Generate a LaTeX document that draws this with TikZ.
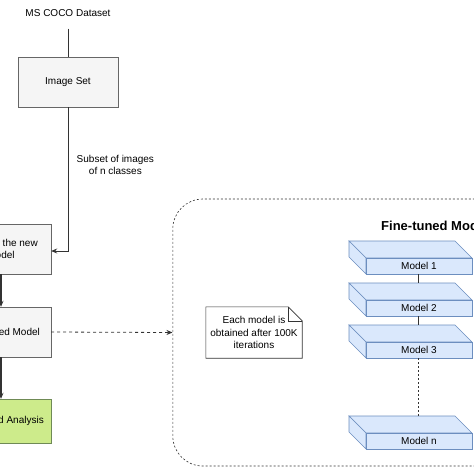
\documentclass[tikz,border=0pt]{standalone}
\usepackage{fontspec}
\setmainfont{Liberation Sans}
\usepackage{tikz}
\usetikzlibrary{arrows.meta}
\definecolor{boxgray}{HTML}{F5F5F5}
\definecolor{linegray}{HTML}{666666}
\definecolor{darkline}{HTML}{333333}
\definecolor{lightgreen}{HTML}{CDEB8B}
\definecolor{greenline}{HTML}{6F8A55}
\definecolor{cubeblue}{HTML}{DAE8FC}
\definecolor{cubeline}{HTML}{6C8EBF}

\tikzset{
  procbox/.style={draw=linegray, fill=boxgray, minimum width=100pt, minimum height=50pt, align=center, font=\fontsize{10}{12}\selectfont},
  conn/.style={draw=darkline, line width=0.8pt},
  arrowtip/.style={-{Stealth[length=6pt,width=5pt]}},
}

\begin{document}
\begin{tikzpicture}[x=1pt, y=-1pt, font=\fontsize{10}{12}\selectfont]
  % fixes the page and cuts off what lies outside it
  \path[use as bounding box, clip] (0,0) rectangle (474,474);

  % draws the pipeline on the left
  \node[inner sep=0pt] (coco) at (68,13) {MS COCO Dataset};
  \node[procbox] (imgset) at (68,82) {Image Set};
  \node[procbox] (train) at (1,249) {Training the new\\Model};
  \node[procbox] (trained) at (1,332) {Fine-tuned Model};
  \node[procbox, fill=lightgreen, draw=greenline, minimum height=44pt] (analysis) at (1,421) {Combined Analysis};

  \draw[conn] ([yshift=-12pt]coco.south) -- (imgset.north);
  \draw[conn, arrowtip] (imgset.south) |- ([yshift=-2pt]train.east)
    node[pos=0.2, right=5pt, align=center] {Subset of images\\of n classes};
  \draw[conn, line width=1.6pt, arrowtip] (train) -- (trained);
  \draw[conn, line width=1.6pt, arrowtip] (trained) -- (analysis);

  % draws the box of fine-tuned models
  \node[draw=darkline, line width=0.6pt, dash pattern=on 2pt off 2pt, rounded corners=30pt,
        minimum width=380pt, minimum height=267pt, anchor=west] (models) at (172.5,332.5) {};
  \draw[conn, dash pattern=on 3pt off 3pt, arrowtip] (trained.east) -- (models.west);

  \node[anchor=west, inner sep=0pt, font=\bfseries\fontsize{13}{15}\selectfont] (title) at (381,226) {Fine-tuned Models};

  % draws the stack of models
  \foreach \name/\y in {1/241, 2/283, 3/325, n/416} {
    \draw[cubeline, fill=cubeblue, line width=0.6pt] (349,\y) -- (455,\y) -- (472,\y+17) -- (366,\y+17) -- cycle;
    \draw[cubeline, fill=cubeblue, line width=0.6pt] (349,\y) -- (366,\y+17) -- (366,\y+33) -- (349,\y+16) -- cycle;
    \node[draw=cubeline, fill=cubeblue, line width=0.6pt, minimum width=106pt, minimum height=16pt, inner sep=0pt]
      (model-\name) at (419,\y+25) {Model \name};
    \coordinate (top-\name) at (418,\y);
  }
  \draw[conn] ([xshift=-1pt]model-1.south) -- (top-2);
  \draw[conn] ([xshift=-1pt]model-2.south) -- (top-3);
  \draw[conn, dash pattern=on 2pt off 2pt] ([xshift=-1pt]model-3.south) -- (top-n);

  % draws the note
  \node[minimum width=96pt, minimum height=51pt, inner sep=0pt] (note) at (254,332.5) {};
  \draw[darkline, line width=0.6pt, fill=white] (note.north west) -- ([xshift=-14pt]note.north east)
    -- ([yshift=-14pt]note.north east) -- (note.south east) -- (note.south west) -- cycle;
  \draw[darkline, line width=0.6pt] ([xshift=-14pt]note.north east) -- ([xshift=-14pt,yshift=-14pt]note.north east)
    -- ([yshift=-14pt]note.north east);
  \node[align=center, font=\fontsize{10}{12.5}\selectfont] at (note) {Each model is\\obtained after 100K\\iterations};
\end{tikzpicture}
\end{document}
